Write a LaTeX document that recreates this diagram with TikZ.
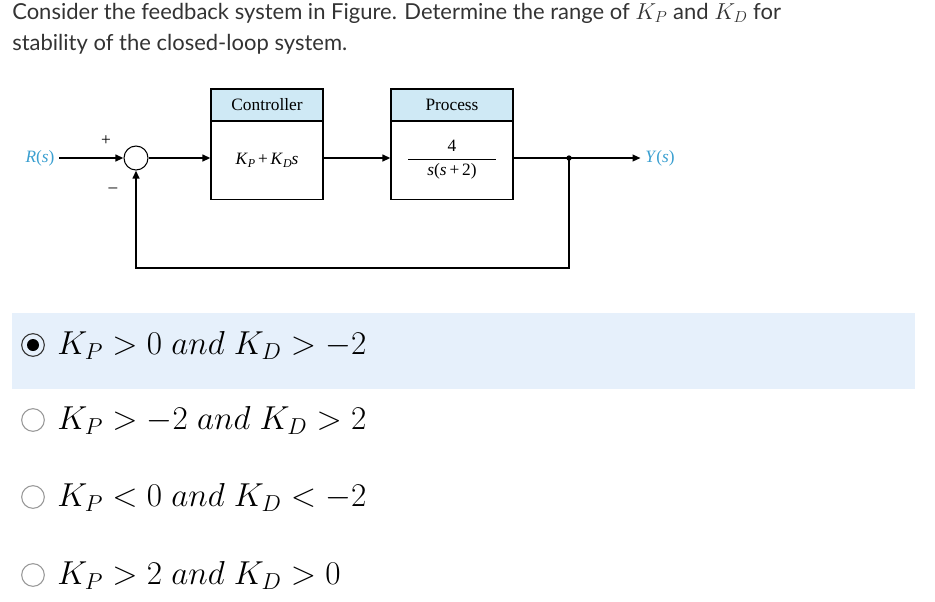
\documentclass[tikz,border=0pt]{standalone}
\usepackage{fontspec}
\setmainfont{Lato}
\newfontfamily\tms{Liberation Serif}
\usetikzlibrary{arrows.meta}
\definecolor{hdr}{HTML}{CFE9F5}
\definecolor{sel}{HTML}{E6F0FB}
\definecolor{sig}{HTML}{3A9FD0}
\definecolor{ttl}{HTML}{333333}
\begin{document}
\begin{tikzpicture}[x=0.75pt,y=-0.75pt,
  blk/.style={draw,line width=0.8pt,minimum width=#1*0.75pt,minimum height=58.5pt,inner sep=0pt},
  hd/.style={draw,line width=0.8pt,fill=hdr,minimum width=#1*0.75pt,minimum height=24pt,inner sep=0pt,font=\tms\fontsize{13}{15}\selectfont},
  sg/.style={line width=1.4pt,-{Triangle[length=6pt,width=5pt]}},
  dg/.style={font=\tms\fontsize{13}{15}\selectfont},
  opt/.style={anchor=west,inner sep=0pt,font=\fontsize{26.5}{30}\selectfont},
  rad/.style={circle,draw=gray!80,line width=0.8pt,minimum size=17pt,inner sep=0pt}]
\useasboundingbox (0,0) rectangle (935,601);
\node[anchor=north west,inner sep=0pt,align=left,text=ttl,font=\fontsize{16.5}{23}\selectfont] (title) at (12,3)
 {Consider the feedback system in Figure. Determine the range of {\LARGE$K_P$} and {\LARGE$K_D$} for\\stability of the closed-loop system.};
\node[hd=112] (ch) at (267,105) {Controller};
\node[blk=112,anchor=north] (cb) at (267,121) {};
\node[dg] at (cb.center) {\textit{K}\raisebox{-2pt}{\fontsize{9}{9}\selectfont\textit{P}}\,+\,\textit{K}\raisebox{-2pt}{\fontsize{9}{9}\selectfont\textit{D}}\textit{s}};
\node[hd=122] (ph) at (452,105) {Process};
\node[blk=122,anchor=north] (pb) at (452,121) {};
\node[dg,align=center] at (452,160) {4\\[-9pt]\rule{66pt}{0.5pt}\\[-3pt]\textit{s}(\textit{s}\,+\,2)};
\node[circle,draw,line width=0.8pt,minimum size=18pt,inner sep=0pt] (sum) at (136,158) {};
\node[dg,text=sig] (R) at (40,158) {\textit{R}(\textit{s})};
\node[dg,text=sig] (Y) at (660,158) {\textit{Y}(\textit{s})};
\node[dg] at (106,141) {+};
\node[dg] at (113,190) {–};
\coordinate (j) at (569,158);
\coordinate (b1) at (569,268);
\coordinate (b2) at (136,268);
\draw[sg] (R) -- (sum);
\draw[sg] (sum) -- (cb.west|-sum);
\draw[sg] (cb.east|-sum) -- (pb.west|-sum);
\draw[sg] (pb.east|-sum) -- (Y);
\fill (j) circle (2pt);
\draw[sg] (j) -- (b1) -- (b2) -- (sum);
\fill[sel] (12,313) rectangle (915,389);
\node[rad,draw=ttl] (r1) at (33,345) {};
\fill (r1) circle (4.5pt);
\node[opt] at (57,345) {$K_P > 0\; and\; K_D > -2$};
\node[rad] (r2) at (33,420) {};
\node[opt] at (57,420) {$K_P > -2\; and\; K_D > 2$};
\node[rad] (r3) at (33,497) {};
\node[opt] at (57,497) {$K_P < 0\; and\; K_D < -2$};
\node[rad] (r4) at (33,575) {};
\node[opt] at (57,575) {$K_P > 2\; and\; K_D > 0$};
\end{tikzpicture}
\end{document}
